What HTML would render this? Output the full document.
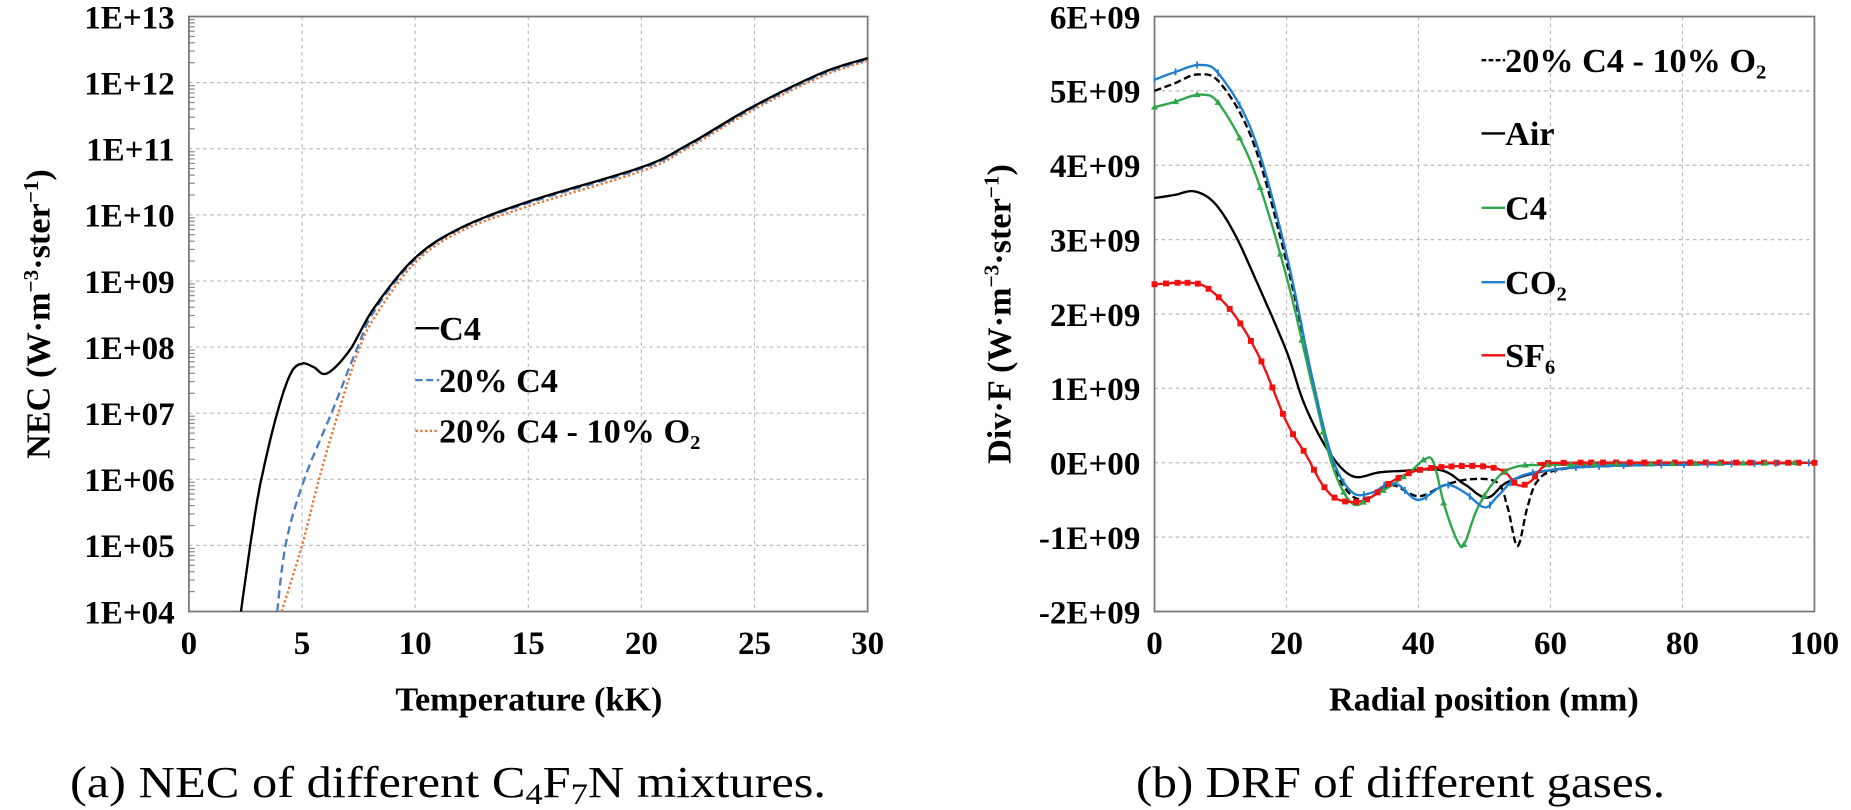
<!DOCTYPE html>
<html><head><meta charset="utf-8"><style>
body{margin:0;background:#fff;width:1851px;height:810px;overflow:hidden}
svg{display:block}
.t{font-family:"Liberation Serif",serif;font-weight:bold;font-size:28px;fill:#000}
.a{font-family:"Liberation Serif",serif;font-weight:bold;font-size:29px;fill:#000}
.c{font-family:"Liberation Serif",serif;font-size:44px;fill:#000}
</style></head><body>
<svg id="s" width="1851" height="810" xmlns="http://www.w3.org/2000/svg">
<g transform="scale(1.1805)">
<g id="g"></g>
<text class="a" x="448" y="602" text-anchor="middle">Temperature  (kK)</text>
<text class="a" x="1257" y="602" text-anchor="middle">Radial position (mm)</text>
<text class="a" transform="translate(42,266) rotate(-90)" text-anchor="middle">NEC (W·m<tspan font-size="18" dy="-10">−3</tspan><tspan dy="10">·ster</tspan><tspan font-size="18" dy="-10">−1</tspan><tspan dy="10">)</tspan></text>
<text class="a" transform="translate(856,266) rotate(-90)" text-anchor="middle">Div·F  (W·m<tspan font-size="18" dy="-10">−3</tspan><tspan dy="10">·ster</tspan><tspan font-size="18" dy="-10">−1</tspan><tspan dy="10">)</tspan></text>
<line x1="352" y1="278" x2="372" y2="278" stroke="#000" stroke-width="2"/>
<text class="a" x="372" y="288">C4</text>
<line x1="352" y1="322" x2="372" y2="322" stroke="#4a7fc1" stroke-width="2" stroke-dasharray="6,3"/>
<text class="a" x="372" y="332">20% C4</text>
<line x1="352" y1="365" x2="372" y2="365" stroke="#e8773a" stroke-width="2" stroke-dasharray="2,2"/>
<text class="a" x="372" y="375">20% C4 - 10% O₂</text>
<line x1="1255" y1="51" x2="1275" y2="51" stroke="#000" stroke-width="2" stroke-dasharray="4,2"/>
<text class="a" x="1275" y="61">20% C4 - 10% O₂</text>
<line x1="1255" y1="113" x2="1275" y2="113" stroke="#000" stroke-width="2"/>
<text class="a" x="1275" y="123">Air</text>
<line x1="1255" y1="176" x2="1275" y2="176" stroke="#2ea64a" stroke-width="2"/>
<text class="a" x="1275" y="186">C4</text>
<line x1="1255" y1="239" x2="1275" y2="239" stroke="#1f7fd0" stroke-width="2"/>
<text class="a" x="1275" y="249">CO₂</text>
<line x1="1255" y1="301" x2="1275" y2="301" stroke="#f01010" stroke-width="2"/>
<text class="a" x="1275" y="311">SF₆</text>
</g>
<text class="c" x="70" y="797" textLength="756" lengthAdjust="spacingAndGlyphs">(a) NEC of different C<tspan font-size="30" dy="7">4</tspan><tspan dy="-7">F</tspan><tspan font-size="30" dy="7">7</tspan><tspan dy="-7">N mixtures.</tspan></text>
<text class="c" x="1136" y="797" textLength="529" lengthAdjust="spacingAndGlyphs">(b) DRF of different gases.</text>
</svg>
<script>
var NS="http://www.w3.org/2000/svg",g=document.getElementById("g");
function el(n,a){var e=document.createElementNS(NS,n);for(var k in a)e.setAttribute(k,a[k]);g.appendChild(e);return e;}
function txt(x,y,s,anc){var e=el("text",{x:x,y:y,"class":"t","text-anchor":anc});e.textContent=s;}
var L={x0:160,x1:735,y0:14,y1:518};
for(var i=0;i<=6;i++){var x=L.x0+i*(L.x1-L.x0)/6;if(i>0&&i<6)el("line",{x1:x,y1:L.y0,x2:x,y2:L.y1,stroke:"#bbb","stroke-dasharray":"3,3"});txt(x,554,String(i*5),"middle");}
for(var i=0;i<=9;i++){var y=L.y0+i*56;if(i>0&&i<9)el("line",{x1:L.x0,y1:y,x2:L.x1,y2:y,stroke:"#bbb","stroke-dasharray":"3,3"});txt(148,y+10,"1E+"+(13-i<10?"0":"")+(13-i),"end");
 if(i<9)for(var m=2;m<10;m++){var yy=y+56-56*Math.log10(m);el("line",{x1:L.x0,y1:yy,x2:L.x0+5,y2:yy,stroke:"#888"});}}
el("rect",{x:L.x0,y:L.y0,width:L.x1-L.x0,height:L.y1-L.y0,fill:"none",stroke:"#777","stroke-width":1.5});
var R={x0:978,x1:1537,y0:14,y1:518};
for(var i=0;i<=5;i++){var x=R.x0+i*(R.x1-R.x0)/5;if(i>0&&i<5)el("line",{x1:x,y1:R.y0,x2:x,y2:R.y1,stroke:"#bbb","stroke-dasharray":"3,3"});txt(x,554,String(i*20),"middle");}
for(var i=0;i<=8;i++){var y=R.y0+i*63;if(i>0&&i<8)el("line",{x1:R.x0,y1:y,x2:R.x1,y2:y,stroke:"#bbb","stroke-dasharray":"3,3"});var v=6-i;txt(966,y+10,v==0?"0E+00":v+"E+09","end");}
el("rect",{x:R.x0,y:R.y0,width:R.x1-R.x0,height:R.y1-R.y0,fill:"none",stroke:"#777","stroke-width":1.5});
function cr(pts,n){var out=[];for(var i=0;i<pts.length-1;i++){var p0=pts[Math.max(0,i-1)],p1=pts[i],p2=pts[i+1],p3=pts[Math.min(pts.length-1,i+2)];
 for(var k=0;k<n;k++){var t=k/n,t2=t*t,t3=t2*t;var f=function(a,b,c,d){return 0.5*(2*b+(-a+c)*t+(2*a-5*b+4*c-d)*t2+(-a+3*b-3*c+d)*t3)};out.push([f(p0[0],p1[0],p2[0],p3[0]),f(p0[1],p1[1],p2[1],p3[1])]);}}
 out.push(pts[pts.length-1]);return out;}
function path(pts,a){a.d="M"+pts.map(function(p){return p[0].toFixed(1)+","+p[1].toFixed(1)}).join("L");a.fill="none";el("path",a);}
function Lp(d){return d.map(function(p){return [L.x0+p[0]/30*(L.x1-L.x0),L.y0+(13-p[1])*56]});}
function Rp(d){return d.map(function(p){return [R.x0+p[0]/100*(R.x1-R.x0),R.y0+(6-p[1])*63]});}
var c4=[[2.3,4],[2.8,5.2],[3.2,6],[3.9,7],[4.5,7.6],[5,7.75],[5.5,7.7],[6.1,7.6],[7.1,7.95],[8.2,8.6],[10,9.35],[12,9.8],[15,10.2],[20,10.72],[22,11.05],[25,11.65],[28,12.15],[30,12.37]];
var c20=[[3.9,4],[4.3,5.05],[5.1,6],[6.3,7],[7.4,7.95],[8.2,8.55],[10,9.33],[12,9.79],[15,10.18],[20,10.7],[22,11.03],[25,11.63],[28,12.13],[30,12.35]];
var c10=[[4.1,4],[5,5],[5.75,6],[6.6,7],[7.5,7.95],[8.3,8.5],[10,9.28],[12,9.75],[15,10.13],[20,10.66],[22,11.0],[25,11.6],[28,12.1],[30,12.33]];
path(cr(Lp(c10),10),{stroke:"#e8773a","stroke-width":2,"stroke-dasharray":"2,2"});
path(cr(Lp(c20),10),{stroke:"#4a7fc1","stroke-width":2,"stroke-dasharray":"7,4"});
path(cr(Lp(c4),10),{stroke:"#000","stroke-width":2});
var air=[[0,3.56],[3,3.6],[6,3.65],[9,3.5],[12,3.1],[15.3,2.47],[20,1.5],[22.7,0.79],[26.4,0.15],[30,-0.18],[34,-0.13],[37.5,-0.11],[43.4,-0.1],[47,-0.29],[50.4,-0.47],[53.7,-0.25],[60,-0.1],[70,-0.04],[100,0]];
var dsh=[[0,5.0],[3,5.1],[6.5,5.22],[10,5.1],[15,4.3],[20,2.7],[24,1.1],[27,0],[30,-0.45],[33,-0.45],[36,-0.3],[40,-0.45],[44,-0.3],[48,-0.22],[52,-0.27],[53.5,-0.6],[55,-1.12],[56.5,-0.6],[58,-0.25],[61,-0.1],[70,-0.04],[100,0]];
var co2=[[0,5.15],[3,5.25],[7,5.35],[10,5.2],[15,4.4],[20,2.8],[24,1.1],[27,0.05],[30,-0.4],[33,-0.4],[35,-0.3],[37,-0.3],[40,-0.5],[44,-0.3],[47,-0.4],[50,-0.6],[52,-0.45],[55,-0.2],[60,-0.1],[70,-0.04],[100,0]];
var gr=[[0,4.78],[3,4.85],[7,4.95],[10,4.8],[15,3.95],[20,2.5],[24,1.0],[27,-0.05],[30,-0.55],[33,-0.45],[36,-0.3],[39,-0.1],[41,0.05],[42.3,0],[44,-0.6],[46,-1.07],[47,-1.08],[49,-0.6],[52,-0.2],[55,-0.05],[60,-0.03],[70,-0.02],[100,0]];
var sf=[[0,2.4],[5,2.42],[8,2.35],[12,2.0],[16,1.4],[20,0.55],[23,0.1],[25.5,-0.3],[28,-0.5],[32,-0.5],[36,-0.25],[40,-0.1],[45,-0.05],[50,-0.05],[53,-0.12],[55,-0.3],[57,-0.25],[59,-0.05],[62,0],[100,0]];
function mk(pts,step,col,shape){for(var i=0;i<pts.length;i+=step){var p=pts[i];if(shape=="s")el("rect",{x:p[0]-2.5,y:p[1]-2.5,width:5,height:5,fill:col});else if(shape=="t")el("path",{d:"M"+p[0]+","+(p[1]-3)+"l3,5h-6z",fill:col});else el("line",{x1:p[0],y1:p[1]-3,x2:p[0],y2:p[1]+3,stroke:col,"stroke-width":1.5});}}
path(cr(Rp(air),12),{stroke:"#000","stroke-width":2});
path(cr(Rp(dsh),12),{stroke:"#000","stroke-width":2,"stroke-dasharray":"6,3"});
path(cr(Rp(gr),12),{stroke:"#2ea64a","stroke-width":2});
path(cr(Rp(co2),12),{stroke:"#1f7fd0","stroke-width":2});
path(cr(Rp(sf),12),{stroke:"#f01010","stroke-width":2});
function sm(d){var p=cr(d,20);var out=[],last=-9;p.forEach(function(q){if(q[0]-last>=1.5){out.push(q);last=q[0];}});return out;}
mk(Rp(sm(sf)),1,"#f01010","s");
mk(Rp(sm(gr)),2,"#2ea64a","t");
mk(Rp(sm(co2)),2,"#1f7fd0","l");
</script>
</body></html>
